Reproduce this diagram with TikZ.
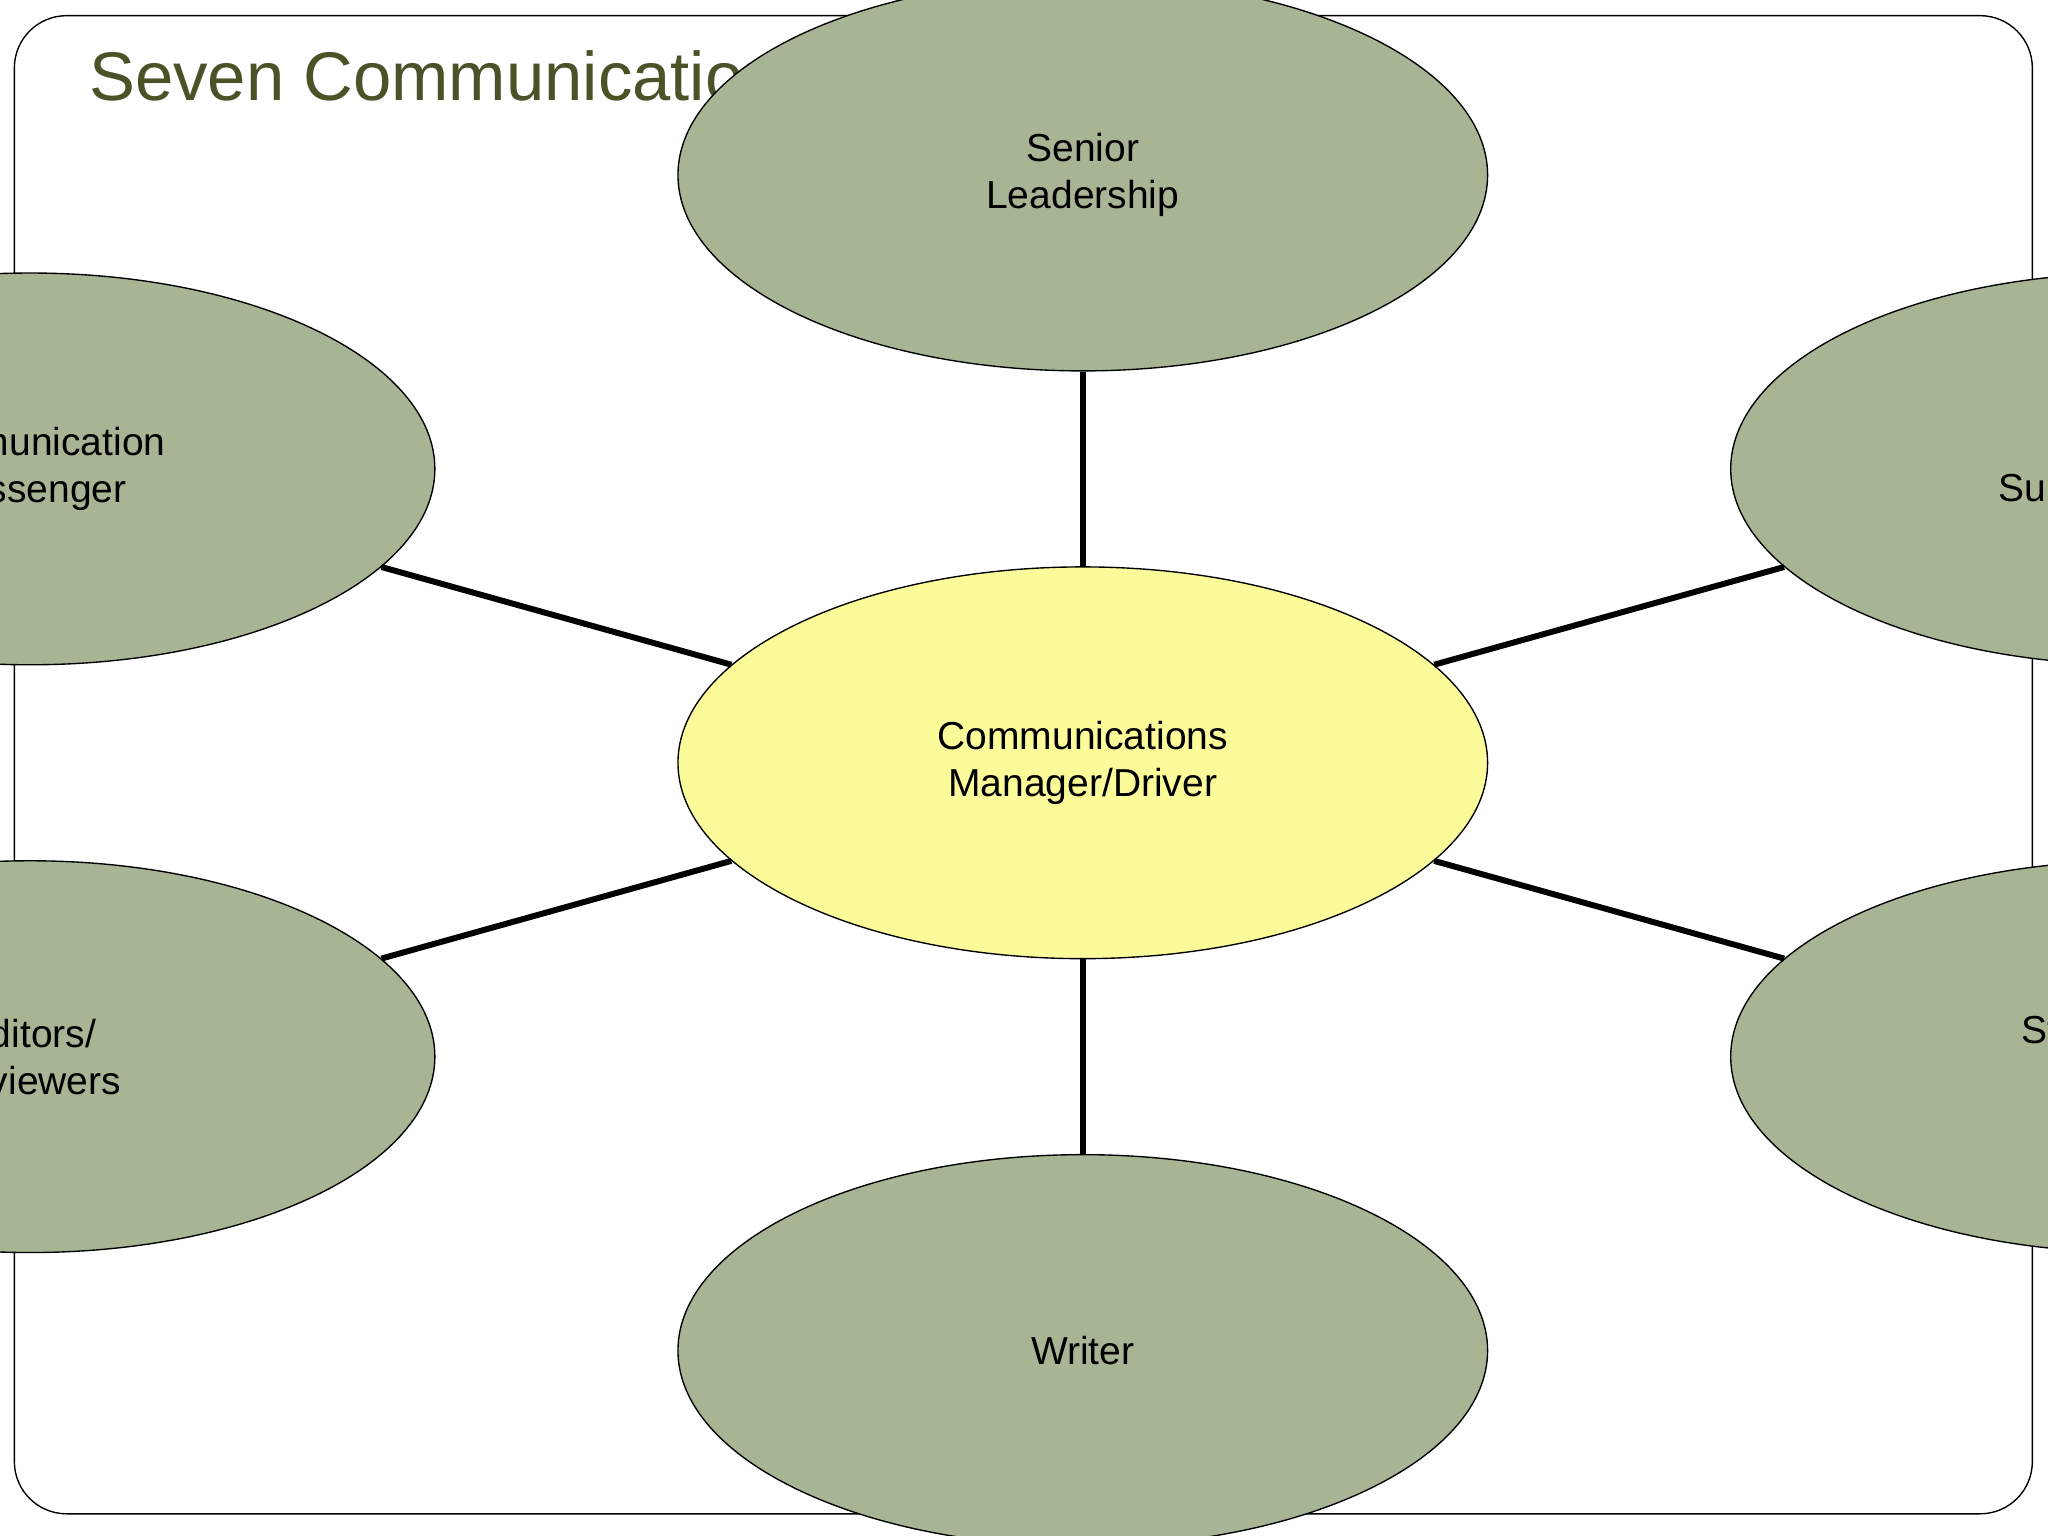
\documentclass[tikz,border=0pt]{standalone}
\usepackage{fontspec}
\setmainfont{Liberation Sans}
\usetikzlibrary{shapes.geometric}
\definecolor{olivefill}{HTML}{A8B595}
\definecolor{centerfill}{HTML}{FCFB9A}
\definecolor{titlecol}{HTML}{4A5228}
\tikzset{
  role/.style={ellipse, draw=black, line width=0.6pt, fill=olivefill,
    minimum width=12.4cm, minimum height=6cm, align=center, font=\fontsize{17}{20.5}\selectfont},
  hub/.style={role, fill=centerfill},
  link/.style={line width=2.6pt}
}
\begin{document}
\begin{tikzpicture}[x=0.02cm,y=-0.02cm]
      \useasboundingbox (0,0) rectangle (1568,1176);
      \clip (0,0) rectangle (1568,1176);
      \draw[line width=0.6pt, rounded corners=0.8cm] (11,12) rectangle (1556,1159);
      \node[anchor=base west, inner sep=0pt, text=titlecol, font=\fontsize{30}{36}\selectfont] (title) at (68,77) {Seven Communication Roles};
      % the hub
      \node[hub] (driver) at (829,584) {Communications\\ Manager/Driver};
      % the roles round it
      \node[role] (senior) at (829,134) {Senior\\ Leadership};
      \node[role] (writer) at (829,1034) {Writer};
      \node[role] (messenger) at (23,359) {Communication\\ Messenger};
      \node[role] (editors) at (23,809) {Editors/\\ Reviewers};
      \node[role] (content) at (1635,359) {Content\\ Subject Experts};
      \node[role] (stake) at (1635,809) {Stakeholders\\ Groups};
      \foreach \r in {senior,writer,messenger,editors,content,stake} {
        \draw[link] (driver) -- (\r);
      }
\end{tikzpicture}
\end{document}
